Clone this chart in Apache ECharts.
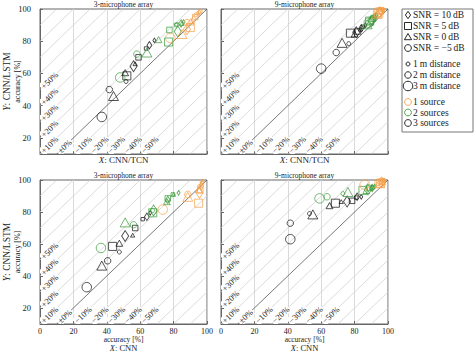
<!DOCTYPE html>
<html lang="en">
<head>
<meta charset="UTF-8">
<title>CNN / TCN / LSTM accuracy</title>
<script src="https://cdn.jsdelivr.net/npm/echarts@6/dist/echarts.min.js"></script>
<style>
    html, body { margin: 0; padding: 0; background: #fff; }
    #chart { width: 474px; height: 353px; }
</style>
</head>
<body>
<div id="chart"></div>
<script>
    // point = [x, y, snr, distance, sources]
    // snr: 0 = 10 dB, 1 = 5 dB, 2 = 0 dB, 3 = -5 dB
    // distance: 0 = 1 m, 1 = 2 m, 2 = 3 m ; sources: 0 = 1, 1 = 2, 2 = 3
    var tcn3 = [
        [37,33,3,2,2],[41.5,50,3,1,2],[51.5,55,3,0,2],[44,46,2,2,2],[51,60.5,2,1,2],[57,66,2,0,2],
        [52,58.5,1,2,2],[59,70,1,1,2],[63.5,75.5,1,0,2],[56,64.5,0,2,2],[65.5,77.5,0,1,2],[68.5,80.5,0,0,2],
        [48,57.5,3,2,1],[58,72,3,1,1],[82,90.5,3,0,1],[64,73,2,2,1],[71,81,2,1,1],[85,91,2,0,1],
        [77,79.5,1,2,1],[77.5,87,1,1,1],[81.5,90,1,0,1],[82.5,86,0,2,1],[84.5,91,0,1,1],[86,92,0,0,1],
        [78,82,3,2,0],[88,91.5,3,1,0],[93.5,96.5,3,0,0],[85,84.5,2,2,0],[90,92,2,1,0],[94.5,97.5,2,0,0],
        [90,88.5,1,2,0],[93,95,1,1,0],[96,98.5,1,0,0],[88,87.5,0,2,0],[92,93.5,0,1,0],[95.5,98,0,0,0]
    ];
    var tcn9 = [
        [60,63,3,2,2],[69,73,3,1,2],[76.5,78.5,3,0,2],[72.5,79,2,2,2],[80,84.5,2,1,2],[83.5,87.5,2,0,2],
        [77.5,85,1,2,2],[82,86,1,1,2],[85,89,1,0,2],[81,85.5,0,2,2],[84,88,0,1,2],[86.5,90,0,0,2],
        [88.5,91.5,3,2,1],[90,93,3,1,1],[91.5,95,3,0,1],[87.5,90.5,2,2,1],[89.5,92.5,2,1,1],[92,95.5,2,0,1],
        [89,92.5,1,2,1],[91,94,1,1,1],[92.5,96,1,0,1],[90.5,93,0,2,1],[92,94.5,0,1,1],[93,96.5,0,0,1],
        [94,98,3,2,0],[95.5,99,3,1,0],[96.5,99.5,3,0,0],[93.5,97,2,2,0],[95,98.5,2,1,0],[96.5,99.5,2,0,0],
        [94.5,97.5,1,2,0],[96,99,1,1,0],[97,99.5,1,0,0],[95,98,0,2,0],[96,98.5,0,1,0],[97,99.5,0,0,0]
    ];
    var cnn3 = [
        [28,33,3,2,2],[40.5,49.5,3,1,2],[47.5,55,3,0,2],[37,46.5,2,2,2],[47.5,60.5,2,1,2],[55.5,65.5,2,0,2],
        [43.5,58.5,1,2,2],[57,70,1,1,2],[61.5,75.5,1,0,2],[51,65,0,2,2],[64,77,0,1,2],[66,79.5,0,0,2],
        [36.5,57.5,3,2,1],[56,72,3,1,1],[67.5,81,3,0,1],[51,73.5,2,2,1],[76,86.5,2,1,1],[80,91,2,0,1],
        [67.5,79.5,1,2,1],[76.5,88.5,1,1,1],[79.5,91,1,0,1],[68,81,0,2,1],[76.5,87.5,0,1,1],[83,92,0,0,1],
        [73.5,81.5,3,2,0],[88.5,91,3,1,0],[95.5,96,3,0,0],[88.5,89.5,2,2,0],[95,94,2,1,0],[96.5,97.5,2,0,0],
        [95,85.5,1,2,0],[96,93.5,1,1,0],[97,98,1,0,0],[95.5,92,0,2,0],[96.5,96,0,1,0],[97.5,99,0,0,0]
    ];
    var cnn9 = [
        [41.5,63,3,2,2],[41.5,73,3,1,2],[53,79,3,0,2],[55,78.5,2,2,2],[65,84,2,1,2],[72,86.5,2,0,2],
        [68.5,85.5,1,2,2],[78.5,87,1,1,2],[81,89,1,0,2],[75.5,86.5,0,2,2],[81.5,89.5,0,1,2],[84,89.5,0,0,2],
        [59,88.5,3,2,1],[63.5,89.5,3,1,1],[73,91.5,3,0,1],[76,92.5,2,2,1],[87,93.5,2,1,1],[90,95,2,0,1],
        [85,93.5,1,2,1],[89,95,1,1,1],[91,95.5,1,0,1],[88,94,0,2,1],[90.5,95,0,1,1],[92,96,0,0,1],
        [86,97,3,2,0],[94,98.5,3,1,0],[96,99,3,0,0],[95,98,2,2,0],[96.5,99,2,1,0],[97.5,99.5,2,0,0],
        [95.5,98,1,2,0],[96.5,99,1,1,0],[97.5,99.5,1,0,0],[96,98.5,0,2,0],[97,99,0,1,0],[98,99.5,0,0,0]
    ];
    var yTicks = [20, 40, 60, 80, 100];
    var diagOffsets = [-90, -80, -70, -60, -50, -40, -30, -20, -10, 0, 10, 20, 30, 40, 50, 60, 70, 80, 90];
    var diagLabelMin = -50, diagLabelMax = 50;
    var snrNames = ['SNR = 10\u2009dB', 'SNR = 5\u2009dB', 'SNR = 0\u2009dB', 'SNR = \u22125\u2009dB'];
    var distNames = ['1\u2009m distance', '2\u2009m distance', '3\u2009m distance'];
    var srcNames = ['1 source', '2 sources', '3 sources'];
    var panelTitles = ['3-microphone array', '9-microphone array', '3-microphone array', '9-microphone array'];

    var srcColors = ['#f5a04a', '#3a9a3a', '#111111'];
    var snrSymbols = ['diamond', 'rect', 'triangle', 'circle'];
    var distSizes = [4, 6.5, 9.5];
    var FONT = '"Liberation Serif", "DejaVu Serif", serif';

    var grids = [
        {left: 40, top: 9, width: 167, height: 145},
        {left: 221, top: 9, width: 167, height: 145},
        {left: 40, top: 180, width: 167, height: 144},
        {left: 221, top: 180, width: 167, height: 144}
    ];
    var panels = [tcn3, tcn9, cnn3, cnn9];

    function markerSize(v) {
        var s = distSizes[v[3]];
        if (v[2] == 0) return [s * 0.75, s * 1.15];
        if (v[2] == 1) return s * 0.85;
        if (v[2] == 2) return [s * 1.05, s * 0.95];
        return s;
    }

    function pctText(c) {
        return c > 0 ? '+' + c + '%' : (c == 0 ? '\u00b10%' : '\u2212' + (-c) + '%');
    }

    // y = x + c, clipped to the box; labelled ones carry their text at the lower end
    function diagLines() {
        var out = [];
        diagOffsets.forEach(function (c) {
            var x0 = Math.max(0, 10 - c), x1 = Math.min(100, 100 - c);
            if (x1 <= x0) return;
            var labelled = c >= diagLabelMin && c <= diagLabelMax;
            out.push({
                coords: [[x0, x0 + c], [x1, x1 + c]],
                lineStyle: c == 0 ? {color: '#555', width: 0.8, opacity: 1} : {color: '#cccccc', width: 0.7, opacity: 1},
                label: {
                    show: labelled, position: 'insideStart', distance: 2,
                    formatter: pctText(c), fontSize: 8.5, color: '#222', fontFamily: FONT,
                    backgroundColor: '#fff', padding: [0, 1]
                }
            });
        });
        return out;
    }

    var chart = echarts.init(document.getElementById('chart'), null, {renderer: 'svg'});

    var xAxes = [], yAxes = [], series = [];
    grids.forEach(function (g, i) {
        g.show = true;
        g.borderColor = '#666';
        g.borderWidth = 1;
        var bottom = i >= 2, left = (i % 2) == 0;
        xAxes.push({
            gridIndex: i, type: 'value', min: 0, max: 100, interval: 20,
            axisLine: {lineStyle: {color: '#666', width: 1}},
            axisTick: {inside: true, length: 3, lineStyle: {color: '#666'}},
            axisLabel: {show: bottom, margin: 3, fontSize: 8, color: '#222', fontFamily: FONT},
            splitLine: {show: true, lineStyle: {color: '#d0d0d0', width: 0.8}}
        });
        yAxes.push({
            gridIndex: i, type: 'value', min: 10, max: 100,
            axisLine: {lineStyle: {color: '#666', width: 1}},
            axisTick: {inside: true, length: 3, customValues: yTicks, lineStyle: {color: '#666'}},
            axisLabel: {show: left, margin: 9, fontSize: 8.5, color: '#222', fontFamily: FONT, customValues: yTicks},
            splitLine: {show: false}
        });
        series.push({
            type: 'lines', coordinateSystem: 'cartesian2d', xAxisIndex: i, yAxisIndex: i,
            silent: true, z: 1, data: diagLines()
        });
        [2, 1, 0].forEach(function (s) {
            series.push({
                type: 'scatter', xAxisIndex: i, yAxisIndex: i, z: 3 + (2 - s),
                data: panels[i].filter(function (v) { return v[4] == s; }),
                symbol: function (v) { return snrSymbols[v[2]]; },
                symbolSize: function (v) { return markerSize(v); },
                itemStyle: {color: 'rgba(255,255,255,0)', borderColor: srcColors[s], borderWidth: 0.9},
                emphasis: {disabled: true}
            });
        });
    });

    // texts round the panels
    var graphics = [];
    grids.forEach(function (g, i) {
        graphics.push({
            type: 'text', x: g.left + g.width / 2, y: g.top - 1,
            style: {text: panelTitles[i], font: '7.5px ' + FONT, fill: '#222', align: 'center', verticalAlign: 'bottom'}
        });
    });
    [0, 1].forEach(function (i) {
        var g = grids[i];
        graphics.push({
            type: 'text', x: g.left + g.width / 2, y: 160,
            style: {
                text: '{i|X}{n|: CNN/TCN}', align: 'center', verticalAlign: 'middle',
                rich: {i: {font: 'italic 9px ' + FONT, fill: '#222'}, n: {font: '9px ' + FONT, fill: '#222'}}
            }
        });
    });
    [2, 3].forEach(function (i) {
        var g = grids[i];
        graphics.push({
            type: 'text', x: g.left + g.width / 2, y: 339.5,
            style: {text: 'accuracy [%]', font: '7.5px ' + FONT, fill: '#222', align: 'center', verticalAlign: 'middle'}
        });
        graphics.push({
            type: 'text', x: g.left + g.width / 2, y: 348,
            style: {
                text: '{i|X}{n|: CNN}', align: 'center', verticalAlign: 'middle',
                rich: {i: {font: 'italic 8.5px ' + FONT, fill: '#222'}, n: {font: '8.5px ' + FONT, fill: '#222'}}
            }
        });
    });
    [0, 2].forEach(function (i) {
        var g = grids[i];
        var cy = g.top + g.height / 2;
        graphics.push({
            type: 'text', x: 7, y: cy, rotation: Math.PI / 2,
            style: {
                text: '{i|Y}{n|: CNN/LSTM}', align: 'center', verticalAlign: 'middle',
                rich: {i: {font: 'italic 9.5px ' + FONT, fill: '#222'}, n: {font: '9.5px ' + FONT, fill: '#222'}}
            }
        });
        graphics.push({
            type: 'text', x: 17, y: cy, rotation: Math.PI / 2,
            style: {text: 'accuracy [%]', font: '8px ' + FONT, fill: '#222', align: 'center', verticalAlign: 'middle'}
        });
    });

    // legend box
    var lg = [{type: 'rect', shape: {x: 402, y: 9, width: 71, height: 123}, style: {fill: '#fff', stroke: '#777', lineWidth: 1}}];
    var mx = 408, tx = 413;
    var rows = [15, 26, 37, 48, 64, 75, 86, 102, 112.5, 123];
    var st = {fill: 'none', stroke: '#111', lineWidth: 0.9};
    lg.push({type: 'polygon', shape: {points: [[mx, rows[0] - 3.7], [mx + 2.6, rows[0]], [mx, rows[0] + 3.7], [mx - 2.6, rows[0]]]}, style: st});
    lg.push({type: 'rect', shape: {x: mx - 3.5, y: rows[1] - 3.5, width: 7, height: 7}, style: st});
    lg.push({type: 'polygon', shape: {points: [[mx, rows[2] - 3.5], [mx + 3.6, rows[2] + 2.7], [mx - 3.6, rows[2] + 2.7]]}, style: st});
    lg.push({type: 'circle', shape: {cx: mx, cy: rows[3], r: 3.4}, style: st});
    distSizes.forEach(function (s, k) {
        lg.push({type: 'circle', shape: {cx: mx, cy: rows[4 + k], r: s / 2}, style: st});
    });
    srcColors.forEach(function (c, k) {
        lg.push({type: 'circle', shape: {cx: mx, cy: rows[7 + k], r: 3.4}, style: {fill: 'none', stroke: c, lineWidth: 0.9}});
    });
    snrNames.concat(distNames, srcNames).forEach(function (t, k) {
        lg.push({type: 'text', x: tx, y: rows[k], style: {text: t, font: '9.5px ' + FONT, fill: '#222', verticalAlign: 'middle'}});
    });
    graphics = graphics.concat(lg);

    chart.setOption({
        animation: false,
        backgroundColor: '#fff',
        textStyle: {fontFamily: FONT},
        grid: grids,
        xAxis: xAxes,
        yAxis: yAxes,
        series: series,
        graphic: graphics
    });
</script>
</body>
</html>
